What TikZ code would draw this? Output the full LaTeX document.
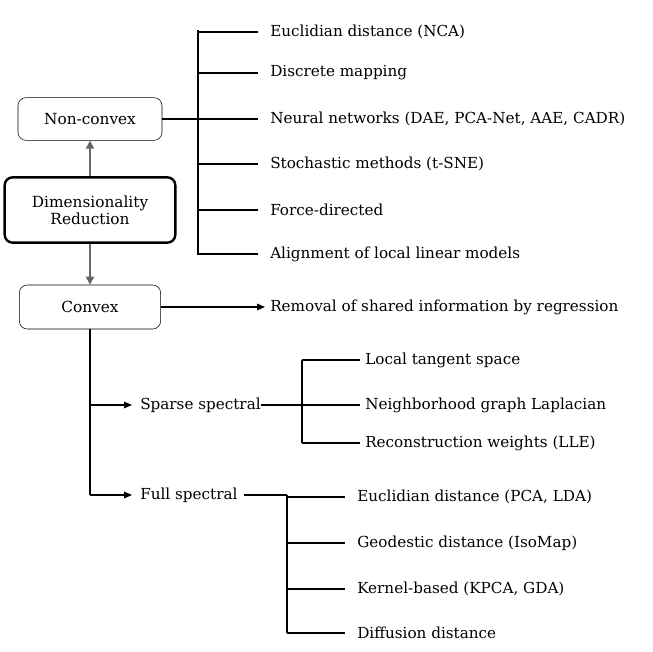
\documentclass[tikz,border=0pt]{standalone}
\usepackage{fontspec}
\setmainfont{DejaVu Serif}
\usetikzlibrary{arrows.meta}
\begin{document}
\begin{tikzpicture}[x=0.75pt,y=-0.75pt,
  box/.style={draw,rounded corners=6pt,minimum width=108pt,minimum height=32pt,align=center,font=\fontsize{11.5}{13}\selectfont},
  lab/.style={anchor=west,inner sep=0pt,font=\fontsize{11.4}{12}\selectfont},
  ln/.style={line width=1.2pt},
  ar/.style={draw=black!60,line width=1.2pt,-{Triangle[length=6pt,width=6pt]}},
  ar2/.style={line width=0.8pt,-{Triangle[length=6pt,width=5pt]}}]
\useasboundingbox (0,0) rectangle (653,652);
\node[box] (nc) at (90,119) {Non-convex};
\node[box,line width=1.8pt,minimum width=128pt,minimum height=49pt] (dr) at (90,210) {Dimensionality\\Reduction};
\node[box,minimum width=106pt,minimum height=33pt] (cv) at (90,307) {Convex};
\draw[ar] (dr.north) -- (nc.south);
\draw[ar] (dr.south) -- (cv.north);
% non-convex bracket
\coordinate (nb) at (198,119);
\draw[ln] (nc.east) -- (nb);
\draw[ln] (198,30) -- (198,255);
\foreach \y/\t [count=\i] in {32/Euclidian distance (NCA),73/Discrete mapping,119/{Neural networks (DAE, PCA-Net, AAE, CADR)},164/Stochastic methods (t-SNE),210/Force-directed,254/Alignment of local linear models}{
  \node[lab] (n\i) at (270,\y) {\t};
  \draw[ln] (198,\y) -- (258,\y);
}
\node[lab] (rm) at (270,307) {Removal of shared information by regression};
\draw[ar2] (cv.east) -- (265,307);
% convex trunk
\draw[ln] (cv.south) -- (90,495);
\node[lab] (sp) at (140,405) {Sparse spectral};
\node[lab] (fs) at (140,495) {Full spectral};
\draw[ar2] (90,405) -- ([xshift=-6pt]sp.west);
\draw[ar2] (90,495) -- ([xshift=-6pt]fs.west);
% sparse
\draw[ln] (sp.east) -- (302,405);
\draw[ln] (302,360) -- (302,443);
\foreach \y/\t [count=\i] in {360/Local tangent space,405/Neighborhood graph Laplacian,443/Reconstruction weights (LLE)}{
  \node[lab] (s\i) at (365,\y) {\t};
  \draw[ln] (302,\y) -- (360,\y);
}
% full
\draw[ln] ([xshift=5pt]fs.east) -- (287,495);
\draw[ln] (287,495) -- (287,633);
\foreach \y/\t [count=\i] in {497/{Euclidian distance (PCA, LDA)},543/Geodestic distance (IsoMap),589/{Kernel-based (KPCA, GDA)},633/Diffusion distance}{
  \node[lab] (f\i) at (357,\y) {\t};
  \draw[ln] (287,\y) -- (345,\y);
}
\end{tikzpicture}
\end{document}
